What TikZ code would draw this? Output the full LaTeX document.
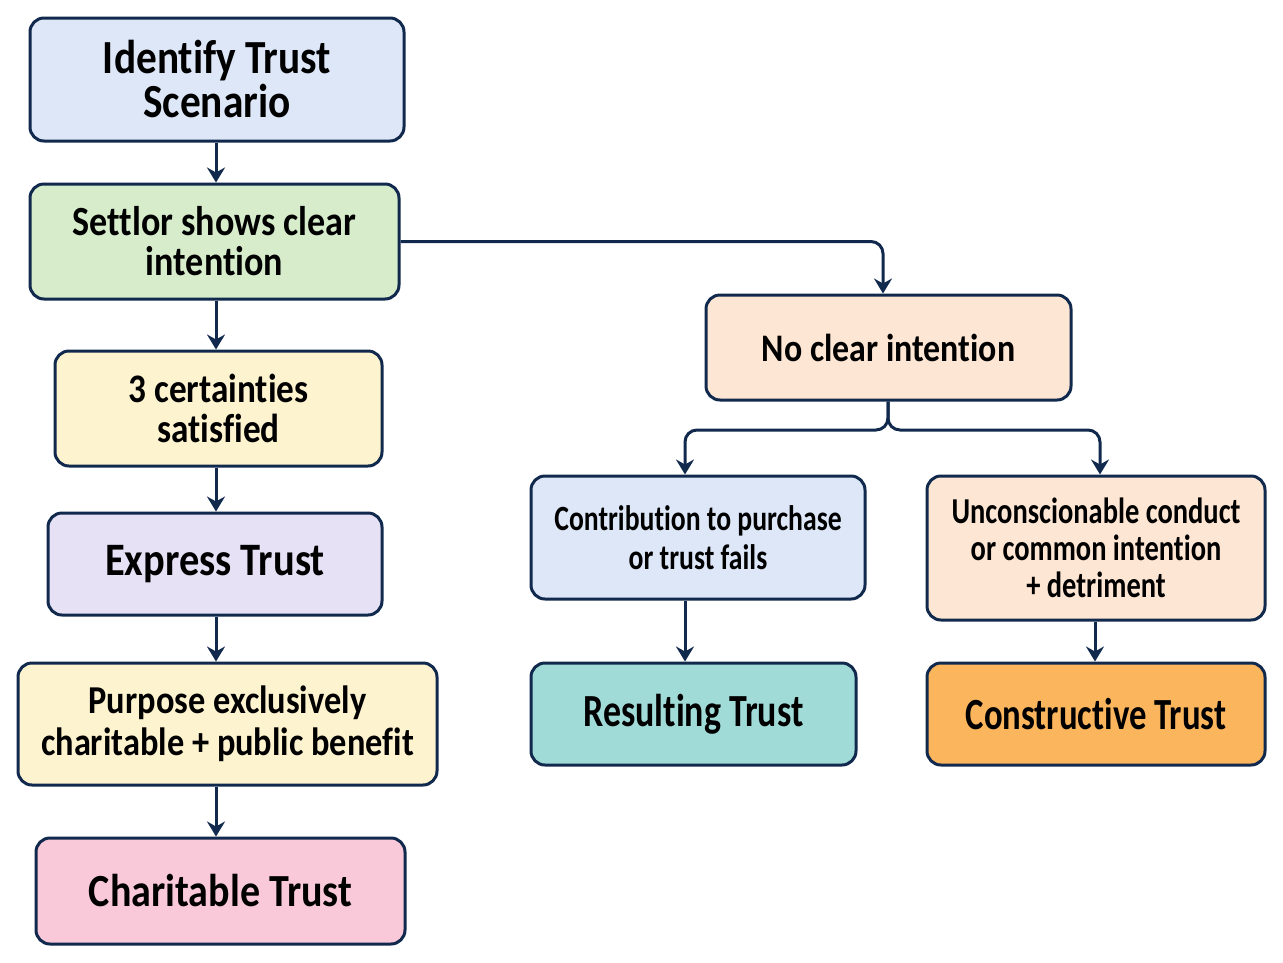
\documentclass[tikz,border=0pt]{standalone}
\usepackage{fontspec}
\newfontfamily\cf[FakeStretch=0.87,Ligatures={NoCommon}]{Carlito}
\newfontfamily\cfn[FakeStretch=0.78,Ligatures={NoCommon}]{Carlito}
\usetikzlibrary{arrows.meta,calc}
\definecolor{navy}{HTML}{10294D}
\definecolor{cblue}{HTML}{DDE7F8}
\definecolor{cgreen}{HTML}{D6ECCB}
\definecolor{cyellow}{HTML}{FDF3CF}
\definecolor{clav}{HTML}{E7E1F5}
\definecolor{cpink}{HTML}{F9C9D9}
\definecolor{cpeach}{HTML}{FDE6D3}
\definecolor{cteal}{HTML}{A0DBD8}
\definecolor{corange}{HTML}{FBB55D}
\tikzset{
  box/.style={draw=navy, line width=3pt, rounded corners=14pt, inner sep=0pt, align=center, text=black},
  conn/.style={draw=navy, line width=3pt, rounded corners=12pt, -{Stealth[length=15pt,width=18pt,inset=5pt]}},
}
\begin{document}
\begin{tikzpicture}[x=1pt,y=-1pt]
\useasboundingbox (0,0) rectangle (1283,962);
% left column
\node[box, fill=cblue, minimum width=374pt, minimum height=123pt, font=\cf\bfseries\fontsize{47.5}{44}\selectfont] (n1) at (217,79.5) {Identify Trust\\Scenario};
\node[box, fill=cgreen, minimum width=369pt, minimum height=115pt, font=\cf\bfseries\fontsize{41.5}{40}\selectfont] (n2) at (214.5,241.5) {Settlor shows clear\\intention};
\node[box, fill=cyellow, minimum width=327pt, minimum height=115pt, font=\cf\bfseries\fontsize{40.5}{40}\selectfont] (n3) at (218.5,408.5) {3 certainties\\satisfied};
\node[box, fill=clav, minimum width=334pt, minimum height=102pt, font=\cf\bfseries\fontsize{46.5}{44}\selectfont] (n4) at (215,564) {Express Trust};
\node[box, fill=cyellow, minimum width=419pt, minimum height=122pt, font=\cf\bfseries\fontsize{39.5}{42}\selectfont] (n5) at (227.5,724) {Purpose exclusively\\charitable + public benefit};
\node[box, fill=cpink, minimum width=369pt, minimum height=106pt, font=\cf\bfseries\fontsize{46}{44}\selectfont] (n6) at (220.5,891) {Charitable Trust};
% right
\node[box, fill=cpeach, minimum width=365pt, minimum height=105pt, font=\cf\bfseries\fontsize{39}{44}\selectfont] (n7) at (888.5,347.5) {No clear intention};
\node[box, fill=cblue, minimum width=334pt, minimum height=123pt, font=\cfn\bfseries\fontsize{35.5}{39}\selectfont] (n8) at (698,537.5) {Contribution to purchase\\or trust fails};
\node[box, fill=cpeach, minimum width=338pt, minimum height=144pt, font=\cfn\bfseries\fontsize{36.5}{37}\selectfont] (n9) at (1096,548) {Unconscionable conduct\\or common intention\\+ detriment};
\node[box, fill=cteal, minimum width=325pt, minimum height=102pt, font=\cfn\bfseries\fontsize{46}{44}\selectfont] (n10) at (693.5,714) {Resulting Trust};
\node[box, fill=corange, minimum width=338pt, minimum height=102pt, font=\cfn\bfseries\fontsize{44.5}{44}\selectfont] (n11) at (1096,714) {Constructive Trust};
% connector guides
\coordinate (ax) at (216,0);
\coordinate (bx) at (883,0);
\coordinate (br) at (888,430);
\coordinate (cx) at (685,0);
\coordinate (dx) at (1100,0);
\coordinate (ex) at (1095,0);
% left chain
\draw[conn] (n1.south -| ax) -- (n2.north -| ax);
\draw[conn] (n2.south -| ax) -- (n3.north -| ax);
\draw[conn] (n3.south -| ax) -- (n4.north -| ax);
\draw[conn] (n4.south -| ax) -- (n5.north -| ax);
\draw[conn] (n5.south -| ax) -- (n6.north -| ax);
% to no clear
\draw[conn] (n2.east) -- (n2.east -| bx) -- (n7.north -| bx);
% branch
\draw[conn] (n7.south -| br) -- (br) -- (br -| cx) -- (n8.north -| cx);
\draw[conn] (n7.south -| br) -- (br) -- (br -| dx) -- (n9.north -| dx);
\draw[conn] (n8.south -| cx) -- (n10.north -| cx);
\draw[conn] (n9.south -| ex) -- (n11.north -| ex);
\end{tikzpicture}
\end{document}
